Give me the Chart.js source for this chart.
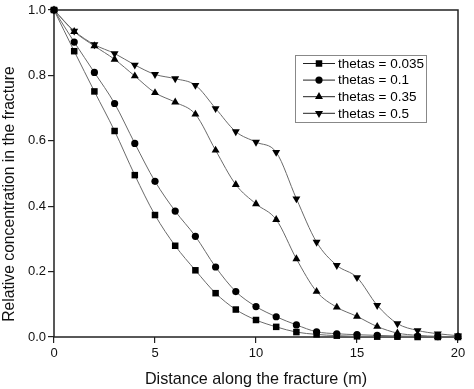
<!DOCTYPE html>
<html>
<head>
<meta charset="utf-8">
<script src="https://cdn.jsdelivr.net/npm/chart.js@4/dist/chart.umd.min.js"></script>
<style>
  html, body { margin: 0; padding: 0; background: #fff; }
  #wrap { width: 474px; height: 389px; }
</style>
</head>
<body>
<div id="wrap"><canvas id="myChart" width="474" height="389"></canvas></div>
<script>
const xValues = [0, 1, 2, 3, 4, 5, 6, 7, 8, 9, 10, 11, 12, 13, 14, 15, 16, 17, 18, 19, 20]
const seriesNames = ['thetas = 0.035', 'thetas = 0.1', 'thetas = 0.35', 'thetas = 0.5']
const y035 = [1.0, 0.874, 0.751, 0.630, 0.495, 0.373, 0.279, 0.204, 0.134, 0.084, 0.052, 0.031, 0.015, 0.008, 0.004, 0.002, 0.001, 0.001, 0.0, 0.0, 0.0]
const y01 = [1.0, 0.902, 0.809, 0.714, 0.592, 0.476, 0.385, 0.308, 0.214, 0.139, 0.093, 0.062, 0.037, 0.016, 0.010, 0.007, 0.005, 0.003, 0.002, 0.001, 0.001]
const y035b = [1.0, 0.934, 0.890, 0.849, 0.798, 0.747, 0.718, 0.681, 0.571, 0.466, 0.407, 0.359, 0.239, 0.139, 0.091, 0.063, 0.032, 0.012, 0.005, 0.002, 0.001]
const y05 = [1.0, 0.936, 0.894, 0.867, 0.832, 0.803, 0.790, 0.770, 0.699, 0.628, 0.596, 0.565, 0.423, 0.290, 0.219, 0.182, 0.097, 0.041, 0.020, 0.010, 0.004]
const xTicks = [0, 5, 10, 15, 20]
const yTicks = [0.0, 0.2, 0.4, 0.6, 0.8, 1.0]
const xTitle = 'Distance along the fracture (m)'
const yTitle = 'Relative concentration in the fracture'

const markers = [
    {style: 'rect', radius: 4.6, rotation: 0},
    {style: 'circle', radius: 3.6, rotation: 0},
    {style: 'triangle', radius: 4.6, rotation: 0},
    {style: 'triangle', radius: 4.6, rotation: 180}
]
const allY = [y035, y01, y035b, y05]

const datasets = allY.map((ys, i) => ({
    label: seriesNames[i],
    data: ys.map((y, j) => ({x: xValues[j], y: y})),
    borderColor: '#6a6a6a',
    borderWidth: 1,
    backgroundColor: '#000',
    pointBackgroundColor: '#000',
    pointBorderColor: '#000',
    pointBorderWidth: 0,
    pointStyle: markers[i].style,
    pointRadius: markers[i].radius,
    pointRotation: markers[i].rotation,
    cubicInterpolationMode: 'monotone',
    fill: false,
    clip: false
}))

// box round the plot area and the y axis title
const framePlugin = {
    id: 'frame',
    beforeDatasetsDraw(chart) {
        const {ctx, chartArea: a} = chart
        ctx.save()
        ctx.strokeStyle = '#222'
        ctx.lineWidth = 1.5
        ctx.strokeRect(a.left, a.top, a.right - a.left, a.bottom - a.top)
        ctx.translate(10, 194)
        ctx.rotate(-Math.PI / 2)
        ctx.fillStyle = '#111'
        ctx.font = '15.7px "Liberation Sans", Arial, sans-serif'
        ctx.textAlign = 'center'
        ctx.textBaseline = 'middle'
        ctx.fillText(yTitle, 0, 0)
        ctx.restore()
    }
}

const legendPlugin = {
    id: 'boxLegend',
    afterDraw(chart) {
        const ctx = chart.ctx
        const bx = 295, by = 55, bw = 131, bh = 67
        ctx.save()
        ctx.fillStyle = '#fff'
        ctx.fillRect(bx, by, bw, bh)
        ctx.strokeStyle = '#888'
        ctx.lineWidth = 1
        ctx.strokeRect(bx + 0.5, by + 0.5, bw, bh)
        ctx.font = '13.5px "Liberation Sans", Arial, sans-serif'
        ctx.textBaseline = 'middle'
        seriesNames.forEach((name, i) => {
            const yy = 63.5 + i * 16.6
            ctx.strokeStyle = '#222'
            ctx.beginPath()
            ctx.moveTo(303, yy)
            ctx.lineTo(335, yy)
            ctx.stroke()
            ctx.fillStyle = '#000'
            Chart.helpers.drawPoint(ctx, {
                pointStyle: markers[i].style,
                radius: markers[i].radius,
                rotation: markers[i].rotation,
                borderWidth: 0
            }, 319, yy)
            ctx.fillStyle = '#000'
            ctx.fillText(name, 338, yy + 0.5)
        })
        ctx.restore()
    }
}

new Chart('myChart', {
    type: 'line',
    data: {datasets: datasets},
    plugins: [framePlugin, legendPlugin],
    options: {
        responsive: false,
        animation: false,
        layout: {padding: {top: 10, right: 16, left: 0, bottom: 0}},
        plugins: {legend: {display: false}, tooltip: {enabled: false}},
        scales: {
            x: {
                type: 'linear',
                min: 0,
                max: 20,
                afterFit: s => { s.height = 52 },
                afterBuildTicks: s => { s.ticks = xTicks.map(v => ({value: v})) },
                border: {display: false},
                grid: {display: true, drawOnChartArea: false, drawTicks: true, tickLength: 6, color: '#222', lineWidth: 1.2},
                ticks: {color: '#111', font: {size: 13, family: '"Liberation Sans", Arial'}, padding: 3, maxRotation: 0},
                title: {display: true, text: xTitle, color: '#111',
                        font: {size: 16.2, family: '"Liberation Sans", Arial'}, padding: {top: 4, bottom: 0}}
            },
            y: {
                type: 'linear',
                min: 0,
                max: 1,
                afterFit: s => { s.width = 54 },
                afterBuildTicks: s => { s.ticks = yTicks.map(v => ({value: v})) },
                border: {display: false},
                grid: {display: true, drawOnChartArea: false, drawTicks: true, tickLength: 6, color: '#222', lineWidth: 1.2},
                ticks: {color: '#111', font: {size: 13, family: '"Liberation Sans", Arial'}, padding: 2,
                        callback: v => v.toFixed(1)}
            }
        }
    }
})
</script>
</body>
</html>
